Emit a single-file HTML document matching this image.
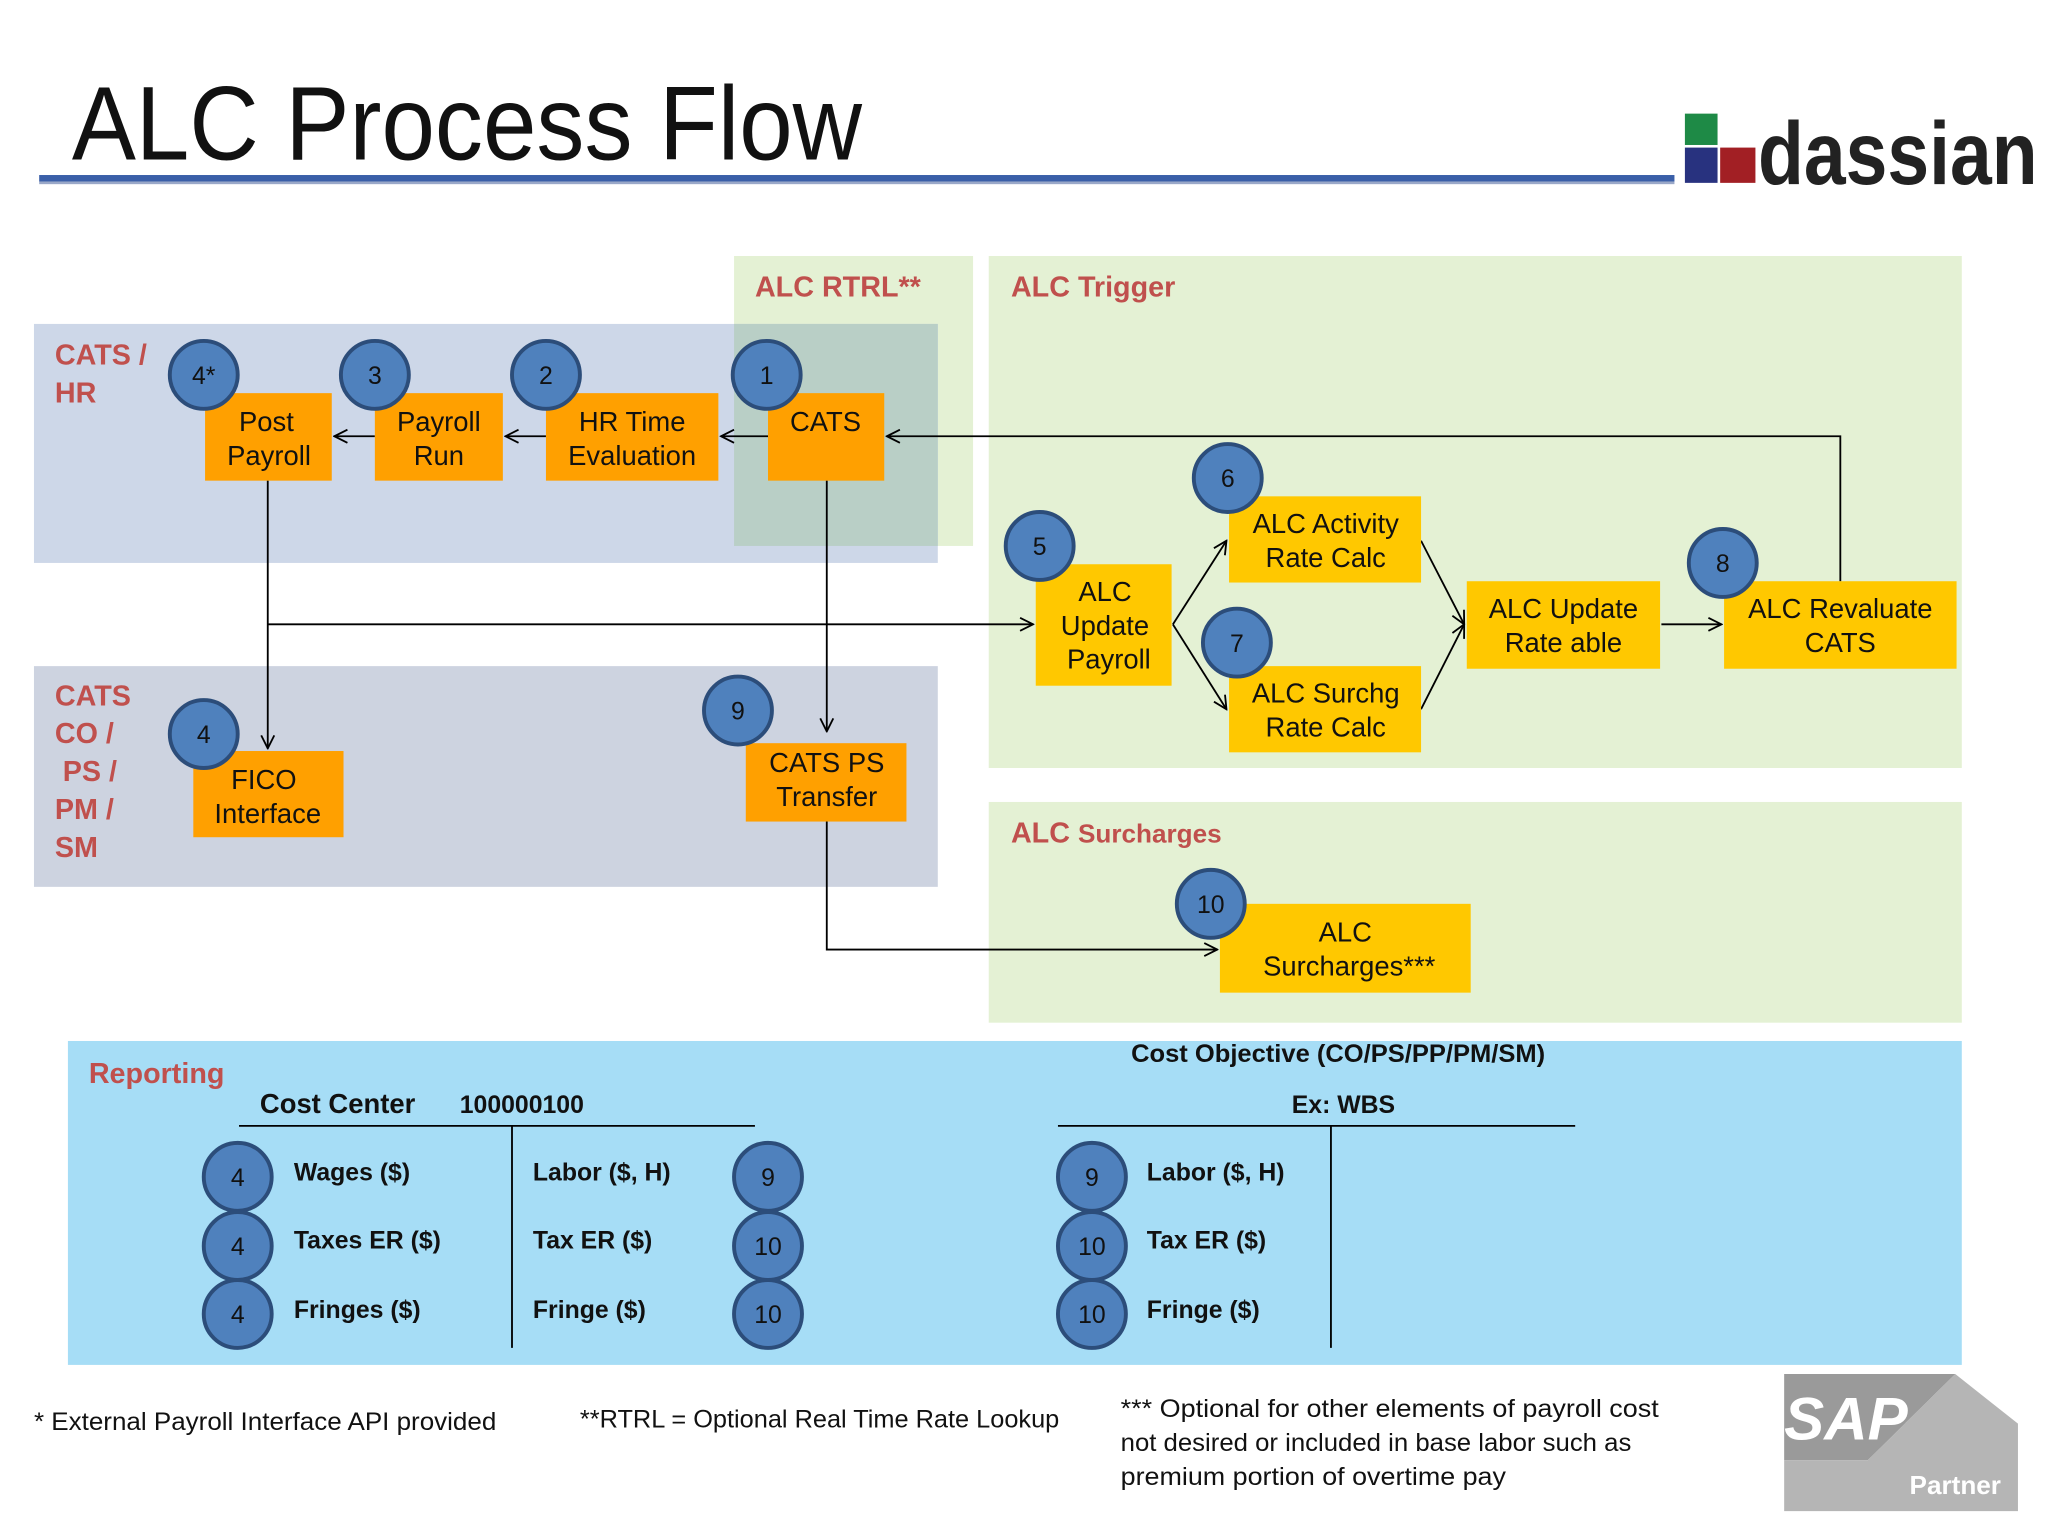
<!DOCTYPE html>
<html><head><meta charset="utf-8"><style>
html,body{margin:0;padding:0;background:#fff;width:2048px;height:1536px;overflow:hidden}
text{font-family:"Liberation Sans",sans-serif}
</style></head><body>
<svg width="2048" height="1536" viewBox="0 0 1568 1176" xmlns="http://www.w3.org/2000/svg">
<defs>
<marker id="a" viewBox="0 0 12 12" refX="11" refY="6" markerWidth="12" markerHeight="12" markerUnits="userSpaceOnUse" orient="auto"><path d="M1,1 L11,6 L1,11" fill="none" stroke="#000" stroke-width="1.4"/></marker>
</defs>
<rect width="1568" height="1176" fill="#fff"/>
<text x="55" y="122" font-size="80" fill="#111" textLength="605" lengthAdjust="spacingAndGlyphs">ALC Process Flow</text>
<rect x="30" y="134" width="1252" height="5" fill="#3a5fa8"/>
<rect x="30" y="139" width="1252" height="2" fill="#9aa8c8"/>
<rect x="1290" y="87" width="25" height="24" fill="#1e8a46"/>
<rect x="1290" y="113" width="25" height="27" fill="#28327f"/>
<rect x="1317" y="113" width="27" height="27" fill="#a21f24"/>
<text x="1346" y="141" font-size="68" font-weight="bold" fill="#222" textLength="214" lengthAdjust="spacingAndGlyphs">dassian</text>
<rect x="562" y="196" width="183" height="222" fill="#e4f1d4"/>
<rect x="757" y="196" width="745" height="392" fill="#e4f1d4"/>
<rect x="757" y="614" width="745" height="169" fill="#e4f1d4"/>
<rect x="26" y="248" width="692" height="183" fill="#cdd7e8"/>
<rect x="562" y="248" width="156" height="170" fill="#b9cfc6"/>
<rect x="26" y="510" width="692" height="169" fill="#cdd3e0"/>
<rect x="52" y="797" width="1450" height="248" fill="#a6ddf6"/>
<g font-size="22" font-weight="bold" fill="#c0504d">
<text x="578" y="227">ALC  RTRL**</text>
<text x="774" y="227">ALC  Trigger</text>
<text x="774" y="645">ALC  <tspan font-size="20">Surcharges</tspan></text>
<text x="42" y="279">CATS /</text><text x="42" y="308">HR</text>
<text x="42" y="540">CATS</text><text x="42" y="569">CO /</text><text x="48" y="598">PS /</text><text x="42" y="627">PM /</text><text x="42" y="656">SM</text>
<text x="68" y="829">Reporting</text>
</g>
<g stroke="#000" stroke-width="1.4" fill="none" marker-end="url(#a)">
<line x1="287" y1="334" x2="256" y2="334"/>
<line x1="418" y1="334" x2="387" y2="334"/>
<line x1="588" y1="334" x2="552" y2="334"/>
<polyline points="1409,445 1409,334 679,334"/>
<line x1="205" y1="368" x2="205" y2="573"/>
<line x1="205" y1="478" x2="791" y2="478"/>
<line x1="633" y1="368" x2="633" y2="560"/>
<polyline points="633,629 633,727 932,727"/>
<line x1="898" y1="478" x2="939" y2="414"/>
<line x1="898" y1="478" x2="939" y2="543"/>
<line x1="1088" y1="414" x2="1121" y2="478"/>
<line x1="1088" y1="543" x2="1121" y2="478"/>
<line x1="1272" y1="478" x2="1318" y2="478"/>
</g>
<g fill="#ffa000">
<rect x="157" y="301" width="97" height="67"/><rect x="287" y="301" width="98" height="67"/>
<rect x="418" y="301" width="132" height="67"/><rect x="588" y="301" width="89" height="67"/>
<rect x="148" y="575" width="115" height="66"/><rect x="571" y="569" width="123" height="60"/>
</g>
<g fill="#ffc800">
<rect x="793" y="432" width="104" height="93"/><rect x="941" y="380" width="147" height="66"/>
<rect x="941" y="510" width="147" height="66"/><rect x="1123" y="445" width="148" height="67"/>
<rect x="1320" y="445" width="178" height="67"/><rect x="934" y="692" width="192" height="68"/>
</g>
<g font-size="21" fill="#111" text-anchor="middle">
<text x="204" y="330">Post</text><text x="206" y="356">Payroll</text>
<text x="336" y="330">Payroll</text><text x="336" y="356">Run</text>
<text x="484" y="330">HR Time</text><text x="484" y="356">Evaluation</text>
<text x="632" y="330">CATS</text>
<text x="202" y="604">FICO</text><text x="205" y="630">Interface</text>
<text x="633" y="591">CATS PS</text><text x="633" y="617">Transfer</text>
<text x="846" y="460">ALC</text><text x="846" y="486">Update</text><text x="849" y="512">Payroll</text>
<text x="1015" y="408">ALC Activity</text><text x="1015" y="434">Rate Calc</text>
<text x="1015" y="538">ALC Surchg</text><text x="1015" y="564">Rate Calc</text>
<text x="1197" y="473">ALC Update</text><text x="1197" y="499">Rate able</text>
<text x="1409" y="473">ALC Revaluate</text><text x="1409" y="499">CATS</text>
<text x="1030" y="721">ALC</text><text x="1033" y="747">Surcharges***</text>
</g>
<g fill="#4f81bd" stroke="#2c4d7a" stroke-width="3">
<circle cx="156" cy="287" r="26"/><circle cx="287" cy="287" r="26"/><circle cx="418" cy="287" r="26"/><circle cx="587" cy="287" r="26"/>
<circle cx="940" cy="366" r="26"/><circle cx="796" cy="418" r="26"/><circle cx="947" cy="492" r="26"/><circle cx="1319" cy="431" r="26"/>
<circle cx="156" cy="562" r="26"/><circle cx="565" cy="544" r="26"/><circle cx="927" cy="692" r="26"/>
<circle cx="182" cy="901" r="26"/><circle cx="182" cy="954" r="26"/><circle cx="182" cy="1006" r="26"/>
<circle cx="588" cy="901" r="26"/><circle cx="588" cy="954" r="26"/><circle cx="588" cy="1006" r="26"/>
<circle cx="836" cy="901" r="26"/><circle cx="836" cy="954" r="26"/><circle cx="836" cy="1006" r="26"/>
</g>
<g font-size="19" fill="#111" text-anchor="middle">
<text x="156" y="294">4*</text><text x="287" y="294">3</text><text x="418" y="294">2</text><text x="587" y="294">1</text>
<text x="940" y="373">6</text><text x="796" y="425">5</text><text x="947" y="499">7</text><text x="1319" y="438">8</text>
<text x="156" y="569">4</text><text x="565" y="551">9</text><text x="927" y="699">10</text>
<text x="182" y="908">4</text><text x="182" y="961">4</text><text x="182" y="1013">4</text>
<text x="588" y="908">9</text><text x="588" y="961">10</text><text x="588" y="1013">10</text>
<text x="836" y="908">9</text><text x="836" y="961">10</text><text x="836" y="1013">10</text>
</g>
<g stroke="#000" stroke-width="1.4">
<line x1="183" y1="862" x2="578" y2="862"/><line x1="392" y1="862" x2="392" y2="1032"/>
<line x1="810" y1="862" x2="1206" y2="862"/><line x1="1019" y1="862" x2="1019" y2="1032"/>
</g>
<g font-size="19" font-weight="bold" fill="#111">
<text x="199" y="852" font-size="21">Cost Center</text><text x="352" y="852">100000100</text>
<text x="866" y="813" textLength="317" lengthAdjust="spacingAndGlyphs">Cost Objective (CO/PS/PP/PM/SM)</text><text x="989" y="852">Ex: WBS</text>
<text x="225" y="904">Wages ($)</text><text x="225" y="956">Taxes ER ($)</text><text x="225" y="1009">Fringes ($)</text>
<text x="408" y="904">Labor ($, H)</text><text x="408" y="956">Tax ER ($)</text><text x="408" y="1009">Fringe ($)</text>
<text x="878" y="904">Labor ($, H)</text><text x="878" y="956">Tax ER ($)</text><text x="878" y="1009">Fringe ($)</text>
</g>
<g font-size="19" fill="#111">
<text x="26" y="1095" textLength="354" lengthAdjust="spacingAndGlyphs">* External Payroll Interface API provided</text>
<text x="444" y="1093" textLength="367" lengthAdjust="spacingAndGlyphs">**RTRL = Optional Real Time Rate Lookup</text>
<text x="858" y="1085" textLength="412" lengthAdjust="spacingAndGlyphs">*** Optional for other elements of payroll cost</text>
<text x="858" y="1111" textLength="391" lengthAdjust="spacingAndGlyphs">not desired or included in base labor such as</text>
<text x="858" y="1137" textLength="295" lengthAdjust="spacingAndGlyphs">premium portion of overtime pay</text>
</g>
<polygon points="1366,1052 1497,1052 1430,1118 1366,1118" fill="#9a9a9a"/>
<polygon points="1430,1118 1497,1052 1545,1090 1545,1157 1366,1157 1366,1118" fill="#b5b5b5"/>
<text x="1366" y="1102" font-size="46" font-weight="bold" fill="#fff" font-style="italic">SAP</text>
<text x="1462" y="1144" font-size="20" font-weight="bold" fill="#fff">Partner</text>
</svg>
</body></html>
